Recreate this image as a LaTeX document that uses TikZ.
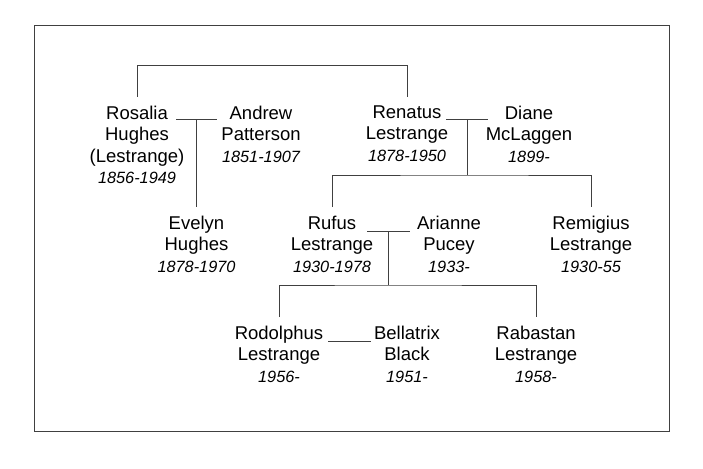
\documentclass[tikz,border=0pt]{standalone}
\usepackage{fontspec}
\setmainfont{Liberation Sans}
\usepackage{tikz}
\usetikzlibrary{calc}

\newcommand{\lifespan}[1]{{\fontsize{16.3}{21.5}\selectfont\itshape #1}}

\begin{document}
\begin{tikzpicture}
            [x=1pt, y=-1pt,
            every node/.style={rectangle, align=center},
            person/.style={anchor=north, inner xsep=0pt, inner ysep=8.5pt,
                font=\fontsize{18.5}{21.5}\selectfont},
            line/.style={draw=black!75, line width=1pt}]

            \useasboundingbox (0,0) rectangle (703,468);
            \draw[line] (34,26) rectangle (669,431);

            % first generation
            \node[person] (rosalia) at (137,97) {Rosalia\\Hughes\\(Lestrange)\\\lifespan{1856-1949}};
            \node[person] (andrew) at (261,97) {Andrew\\Patterson\\\lifespan{1851-1907}};
            \node[person] (renatus) at (407,97) {Renatus\\Lestrange\\\lifespan{1878-1950}};
            \node[person] (diane) at (529,97) {Diane\\McLaggen\\\lifespan{1899-}};

            % second generation
            \node[person] (evelyn) at (196.5,207) {Evelyn\\Hughes\\\lifespan{1878-1970}};
            \node[person] (rufus) at (332,207) {Rufus\\Lestrange\\\lifespan{1930-1978}};
            \node[person] (arianne) at (449,207) {Arianne\\Pucey\\\lifespan{1933-}};
            \node[person] (remigius) at (591,207) {Remigius\\Lestrange\\\lifespan{1930-55}};

            % third generation
            \node[person] (rodolphus) at (279,317) {Rodolphus\\Lestrange\\\lifespan{1956-}};
            \node[person] (bellatrix) at (407,317) {Bellatrix\\Black\\\lifespan{1951-}};
            \node[person] (rabastan) at (536,317) {Rabastan\\Lestrange\\\lifespan{1958-}};

            % siblings
            \draw[line] (rosalia.north) -- ++(0,-31) -| (renatus.north);

            % couples
            \coordinate (ra-l) at (176,119);
            \coordinate (ra-r) at (217,119);
            \coordinate (rd-l) at (446,119);
            \coordinate (rd-r) at (488,119);
            \coordinate (rf-l) at (367,231);
            \coordinate (rf-r) at (410,231);
            \coordinate (rb-l) at (328,341);
            \coordinate (rb-r) at (371,341);

            \draw[line] (ra-l) -- (ra-r);
            \draw[line] (evelyn.north |- ra-l) -- (evelyn.north);

            \draw[line] (rd-l) -- (rd-r);
            \draw[line] ($(rd-l)!.5!(rd-r)$) -- ++(0,56) coordinate (rd-kids);
            \draw[line] (rufus.north) |- (rd-kids) -| (remigius.north);

            \draw[line] (rf-l) -- (rf-r);
            \draw[line] ($(rf-l)!.5!(rf-r)$) -- ++(0,54) coordinate (rf-kids);
            \draw[line] (rodolphus.north) |- (rf-kids) -| (rabastan.north);

            \draw[line] (rb-l) -- (rb-r);
        \end{tikzpicture}
\end{document}
